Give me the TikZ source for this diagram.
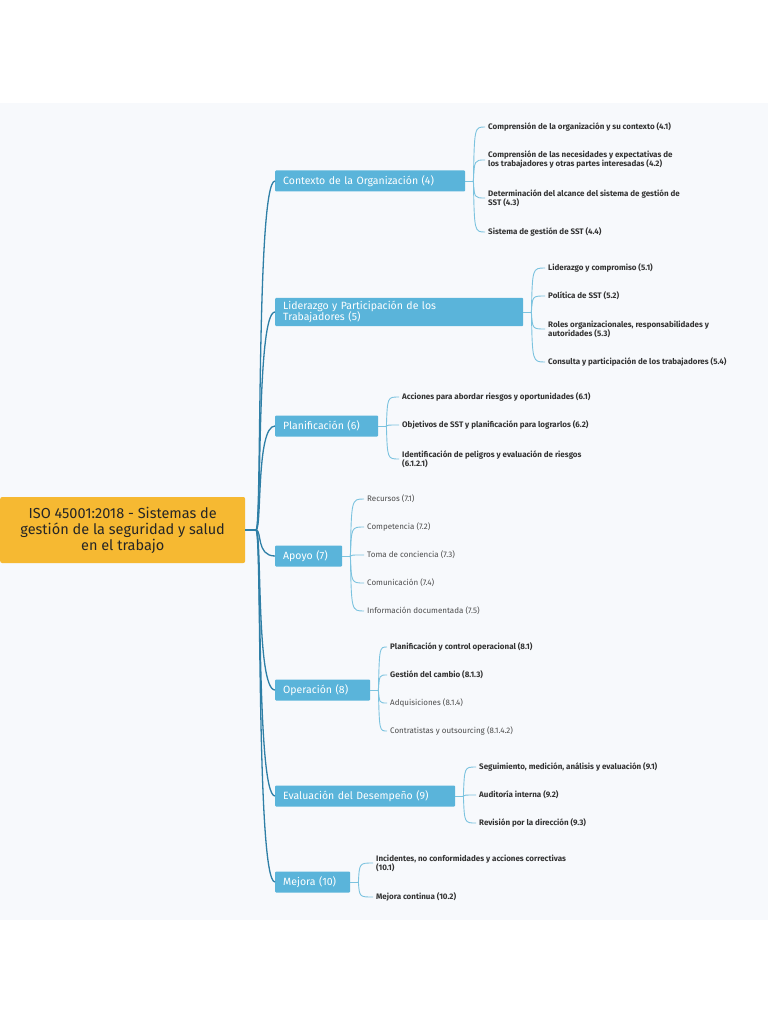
\documentclass[tikz,border=0pt]{standalone}
\usepackage{fontspec}
\setmainfont{Fira Sans}
\begin{document}
\begin{tikzpicture}[x=1pt,y=-1pt,
  br/.style={fill=brc,text=white,font=\fontsize{10.5}{11.5}\selectfont,inner xsep=8pt,inner ysep=3pt,anchor=west,align=left,rounded corners=1pt,minimum height=21pt,text width=#1-16pt},
  lf/.style={anchor=west,align=left,text=black!80,font=\fontsize{8}{9}\selectfont\bfseries,inner sep=1pt},
  lr/.style={anchor=west,align=left,text=black!70,font=\fontsize{8}{9}\selectfont,inner sep=1pt},
  tr/.style={draw=trc,line width=1.3pt},
  lk/.style={draw=lkc,line width=0.9pt}]
\definecolor{brc}{HTML}{5AB4DA}
\definecolor{trc}{HTML}{2E7FA6}
\definecolor{lkc}{HTML}{7CC3DF}
\definecolor{rtc}{HTML}{F6B932}
\definecolor{bgc}{HTML}{F7F9FC}
\useasboundingbox (0,0) rectangle (768,1024);
\fill[white] (0,0) rectangle (768,1024);
\fill[bgc] (0,103) rectangle (768,920);
\node[fill=rtc,rounded corners=2pt,minimum width=245pt,minimum height=66pt,align=center,text=black!85,font=\fontsize{14.5}{16}\selectfont,anchor=west,inner sep=0pt] (root) at (0,530) {ISO 45001:2018 - Sistemas de\\gestión de la seguridad y salud\\en el trabajo};
\coordinate (tk) at (256,530);
\draw[tr] (root.east) -- (tk);
\node[br=190pt] (b1) at (275,181) {Contexto de la Organización (4)};
\node[br=248pt] (b2) at (275,312) {Liderazgo y Participación de los\\Trabajadores (5)};
\node[br=103pt] (b3) at (275,426) {Planificación (6)};
\node[br=67pt] (b4) at (275,556) {Apoyo (7)};
\node[br=95pt] (b5) at (275,690) {Operación (8)};
\node[br=180pt] (b6) at (275,796) {Evaluación del Desempeño (9)};
\node[br=75pt] (b7) at (275,882) {Mejora (10)};
\foreach \b in {b1,b2,b3,b4,b5,b6,b7}{
  \draw[tr] (tk) .. controls (262,530) and (256,530 |- \b.west) .. (\b.west);
}
% leaves
\node[lf] (l11) at (487,127) {Comprensión de la organización y su contexto (4.1)};
\node[lf] (l12) at (487,160) {Comprensión de las necesidades y expectativas de\\los trabajadores y otras partes interesadas (4.2)};
\node[lf] (l13) at (487,198) {Determinación del alcance del sistema de gestión de\\SST (4.3)};
\node[lf] (l14) at (487,232) {Sistema de gestión de SST (4.4)};
\node[lf] (l21) at (547,268) {Liderazgo y compromiso (5.1)};
\node[lf] (l22) at (547,296) {Política de SST (5.2)};
\node[lf] (l23) at (547,329) {Roles organizacionales, responsabilidades y\\autoridades (5.3)};
\node[lf] (l24) at (547,362) {Consulta y participación de los trabajadores (5.4)};
\node[lf] (l31) at (401,397) {Acciones para abordar riesgos y oportunidades (6.1)};
\node[lf] (l32) at (401,425) {Objetivos de SST y planificación para lograrlos (6.2)};
\node[lf] (l33) at (401,459) {Identificación de peligros y evaluación de riesgos\\(6.1.2.1)};
\node[lr] (l41) at (366,499) {Recursos (7.1)};
\node[lr] (l42) at (366,527) {Competencia (7.2)};
\node[lr] (l43) at (366,555) {Toma de conciencia (7.3)};
\node[lr] (l44) at (366,583) {Comunicación (7.4)};
\node[lr] (l45) at (366,611) {Información documentada (7.5)};
\node[lf] (l51) at (389,647) {Planificación y control operacional (8.1)};
\node[lf] (l52) at (389,675) {Gestión del cambio (8.1.3)};
\node[lr] (l53) at (389,703) {Adquisiciones (8.1.4)};
\node[lr] (l54) at (389,731) {Contratistas y outsourcing (8.1.4.2)};
\node[lf] (l61) at (478,767) {Seguimiento, medición, análisis y evaluación (9.1)};
\node[lf] (l62) at (478,795) {Auditoría interna (9.2)};
\node[lf] (l63) at (478,823) {Revisión por la dirección (9.3)};
\node[lf] (l71) at (375,863) {Incidentes, no conformidades y acciones correctivas\\(10.1)};
\node[lf] (l72) at (375,897) {Mejora continua (10.2)};
\foreach \b/\ls in {b1/{l11,l12,l13,l14},b2/{l21,l22,l23,l24},b3/{l31,l32,l33},b4/{l41,l42,l43,l44,l45},b5/{l51,l52,l53,l54},b6/{l61,l62,l63},b7/{l71,l72}}{
  \coordinate (j) at ([xshift=8pt]\b.east);
  \draw[lk] (\b.east) -- (j);
  \foreach \l in \ls {
    \draw[lk] (j) .. controls ([xshift=1pt]j |- \l.west) .. ([xshift=-2pt]\l.west);
  }
}
\end{tikzpicture}
\end{document}
